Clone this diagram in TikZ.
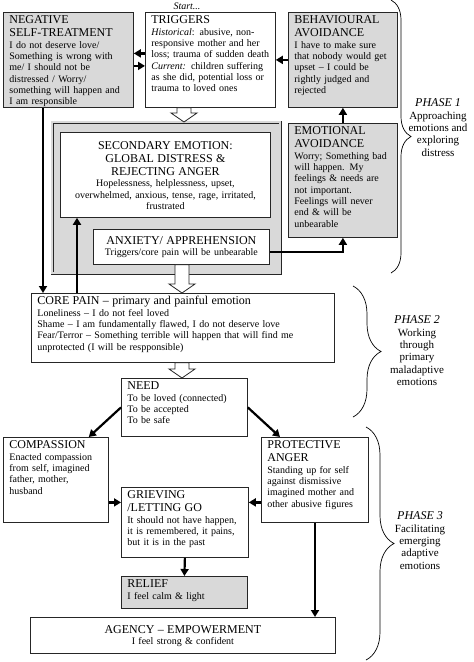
\documentclass[tikz,border=0pt]{standalone}
\usepackage{fontspec}
\setmainfont{Liberation Serif}
\usetikzlibrary{arrows.meta,positioning,calc,decorations.pathreplacing}

\newcommand\bodyfont{\fontsize{10}{11.3}\selectfont}
\newcommand\ttl[1]{{\fontsize{12}{13}\selectfont #1\par}}

\begin{document}
\begin{tikzpicture}[
  x=1pt, y=-1pt,
  every node/.style={font=\bodyfont},
  >={Triangle[length=7pt,width=8pt]},
  box/.style={rectangle, draw=black!85, line width=0.8pt, fill=white, anchor=north west,
    inner xsep=6pt, inner ysep=2.5pt, align=left, text height=9pt},
  shaded/.style={box, fill=black!15},
  midbox/.style={box, align=center},
  frame/.style={rectangle, draw=black!85, line width=0.6pt, double=black!15,
    double distance=2pt, fill=black!15, anchor=north west, inner sep=0pt},
  flow/.style={->, line width=2.2pt},
  hollow/.style={draw=black!85, line width=0.8pt, fill=white,
    to path={let \p1=(\tikztostart), \p2=(\tikztotarget) in
      (\x1-7pt,\y1) -- (\x1-7pt,\y2+9pt) -- (\x1-13pt,\y2+9pt) -- (\x1,\y2)
      -- (\x1+13pt,\y2+9pt) -- (\x1+7pt,\y2+9pt) -- (\x1+7pt,\y1) -- cycle}},
  phase/.style={decorate, decoration={brace, amplitude=#1}, line width=0.7pt},
  phasetext/.style={align=center, font=\fontsize{11}{12.4}\selectfont, anchor=north, inner sep=0pt}
]
  \useasboundingbox (0,0) rectangle (474,662);

  % phase 1
  \node[font=\fontsize{10}{10}\selectfont\itshape, inner sep=0pt] (start) at (187,6.5) {Start...};
  \node[shaded, text width=118pt, text depth=81pt] (neg) at (3,12)
    {\ttl{NEGATIVE\\SELF-TREATMENT}I do not deserve love/\\Something is wrong with\\me/ I should not be\\distressed / Worry/\\something will happen and\\I am responsible};
  \node[box, text width=118pt, text depth=81pt] (trig) at (145,12)
    {\ttl{TRIGGERS}\textit{Historical}: abusive, non-\\responsive mother and her\\loss; trauma of sudden death\\\textit{Current:} children suffering\\as she did, potential loss or\\trauma to loved ones};
  \node[shaded, text width=97pt, text depth=81pt] (beh) at (288,12)
    {\ttl{BEHAVIOURAL\\AVOIDANCE}I have to make sure\\that nobody would get\\upset – I could be\\rightly judged and\\rejected};
  \node[frame, minimum width=228pt, minimum height=151pt] (group) at (52,122) {};
  \node[midbox, text width=198pt, minimum height=85pt] (sec) at (60,132)
    {\ttl{SECONDARY EMOTION:\\GLOBAL DISTRESS \&\\REJECTING ANGER}Hopelessness, helplessness, upset,\\overwhelmed, anxious, tense, rage, irritated,\\frustrated};
  \node[midbox, text width=164pt, minimum height=35pt] (anx) at (93,229)
    {\ttl{ANXIETY/ APPREHENSION}Triggers/core pain will be unbearable};
  \node[shaded, text width=97pt, text depth=100pt] (emo) at (288,123)
    {\ttl{EMOTIONAL\\AVOIDANCE}Worry; Something bad\\will happen. My\\feelings \& needs are\\not important.\\Feelings will never\\end \& will be\\unbearable};

  % phase 2
  \node[box, text width=291pt, text depth=55pt] (core) at (31,293)
    {\ttl{CORE PAIN – primary and painful emotion}Loneliness – I do not feel loved\\Shame – I am fundamentally flawed, I do not deserve love\\Fear/Terror – Something terrible will happen that will find me\\unprotected (I will be respponsible)};
  \node[box, text width=114pt, text depth=44pt] (need) at (121,378)
    {\ttl{NEED}To be loved (connected)\\To be accepted\\To be safe};

  % phase 3
  \node[box, text width=93pt, text depth=71pt] (comp) at (3,437)
    {\ttl{COMPASSION}Enacted compassion\\from self, imagined\\father, mother,\\husband};
  \node[box, text width=95pt, text depth=71pt] (prot) at (261,437)
    {\ttl{PROTECTIVE\\ANGER}Standing up for self\\against dismissive\\imagined mother and\\other abusive figures};
  \node[box, text width=115pt, text depth=56pt] (grie) at (121,487)
    {\ttl{GRIEVING\\/LETTING GO}It should not have happen,\\it is remembered, it pains,\\but it is in the past};
  \node[shaded, text width=114pt, text depth=18pt] (rel) at (121,576)
    {\ttl{RELIEF}I feel calm \& light};
  \node[midbox, text width=293pt, minimum height=36pt] (agen) at (30,617)
    {\ttl{AGENCY – EMPOWERMENT}I feel strong \& confident};

  % connectors
  \draw[flow] ([yshift=6.5pt]trig.west) -- ([yshift=6.5pt]neg.east);
  \draw[flow] ([yshift=-6pt]neg.east) -- ([yshift=-6pt]trig.west);
  \draw[flow] (beh.west) -- (trig.east);
  \draw[flow] (emo.north) -- (beh.south);
  \draw[flow] ([yshift=-5pt]anx.east) -| (emo.south);
  \draw[flow] ([xshift=40pt]neg.south west) -- ([xshift=12pt]core.north west);
  \draw[flow] ([xshift=46pt]core.north west) -- ([xshift=17pt]sec.south west);
  \draw[flow] (need.west) -- ([xshift=-20pt]comp.north east);
  \draw[flow] (need.east) -- ([xshift=19pt]prot.north west);
  \draw[flow] ([yshift=-22.5pt]comp.east) -- ([yshift=20pt]grie.west);
  \draw[flow] ([yshift=-22.5pt]prot.west) -- ([yshift=20pt]grie.east);
  \draw[flow] ([xshift=54pt]prot.south west) -- ([xshift=285pt]agen.north west);
  \draw[flow] (grie.south) -- (rel.north);

  \coordinate (hx1) at (184,0);
  \coordinate (hx2) at (182,0);
  \draw[hollow] (hx1 |- trig.south) to (hx1 |- group.north);
  \draw[hollow] (hx2 |- anx.south) to (hx2 |- core.north);
  \draw[hollow] (hx2 |- core.south) to (hx2 |- need.north);

  % phases
  \draw[phase=20pt] (391,0) -- (391,273);
  \draw[phase=28pt] (353,286) -- (353,417);
  \draw[phase=28pt] (366,427) -- (366,660);
  \node[phasetext] (ph1) at (438,98.5)
    {{\fontsize{12}{12.4}\selectfont\itshape PHASE 1}\\Approaching\\emotions and\\exploring\\distress};
  \node[phasetext] (ph2) at (417,315.5)
    {{\fontsize{12}{12.4}\selectfont\itshape PHASE 2}\\Working\\through\\primary\\maladaptive\\emotions};
  \node[phasetext] (ph3) at (420,511.5)
    {{\fontsize{12}{12.4}\selectfont\itshape PHASE 3}\\Facilitating\\emerging\\adaptive\\emotions};
\end{tikzpicture}
\end{document}
